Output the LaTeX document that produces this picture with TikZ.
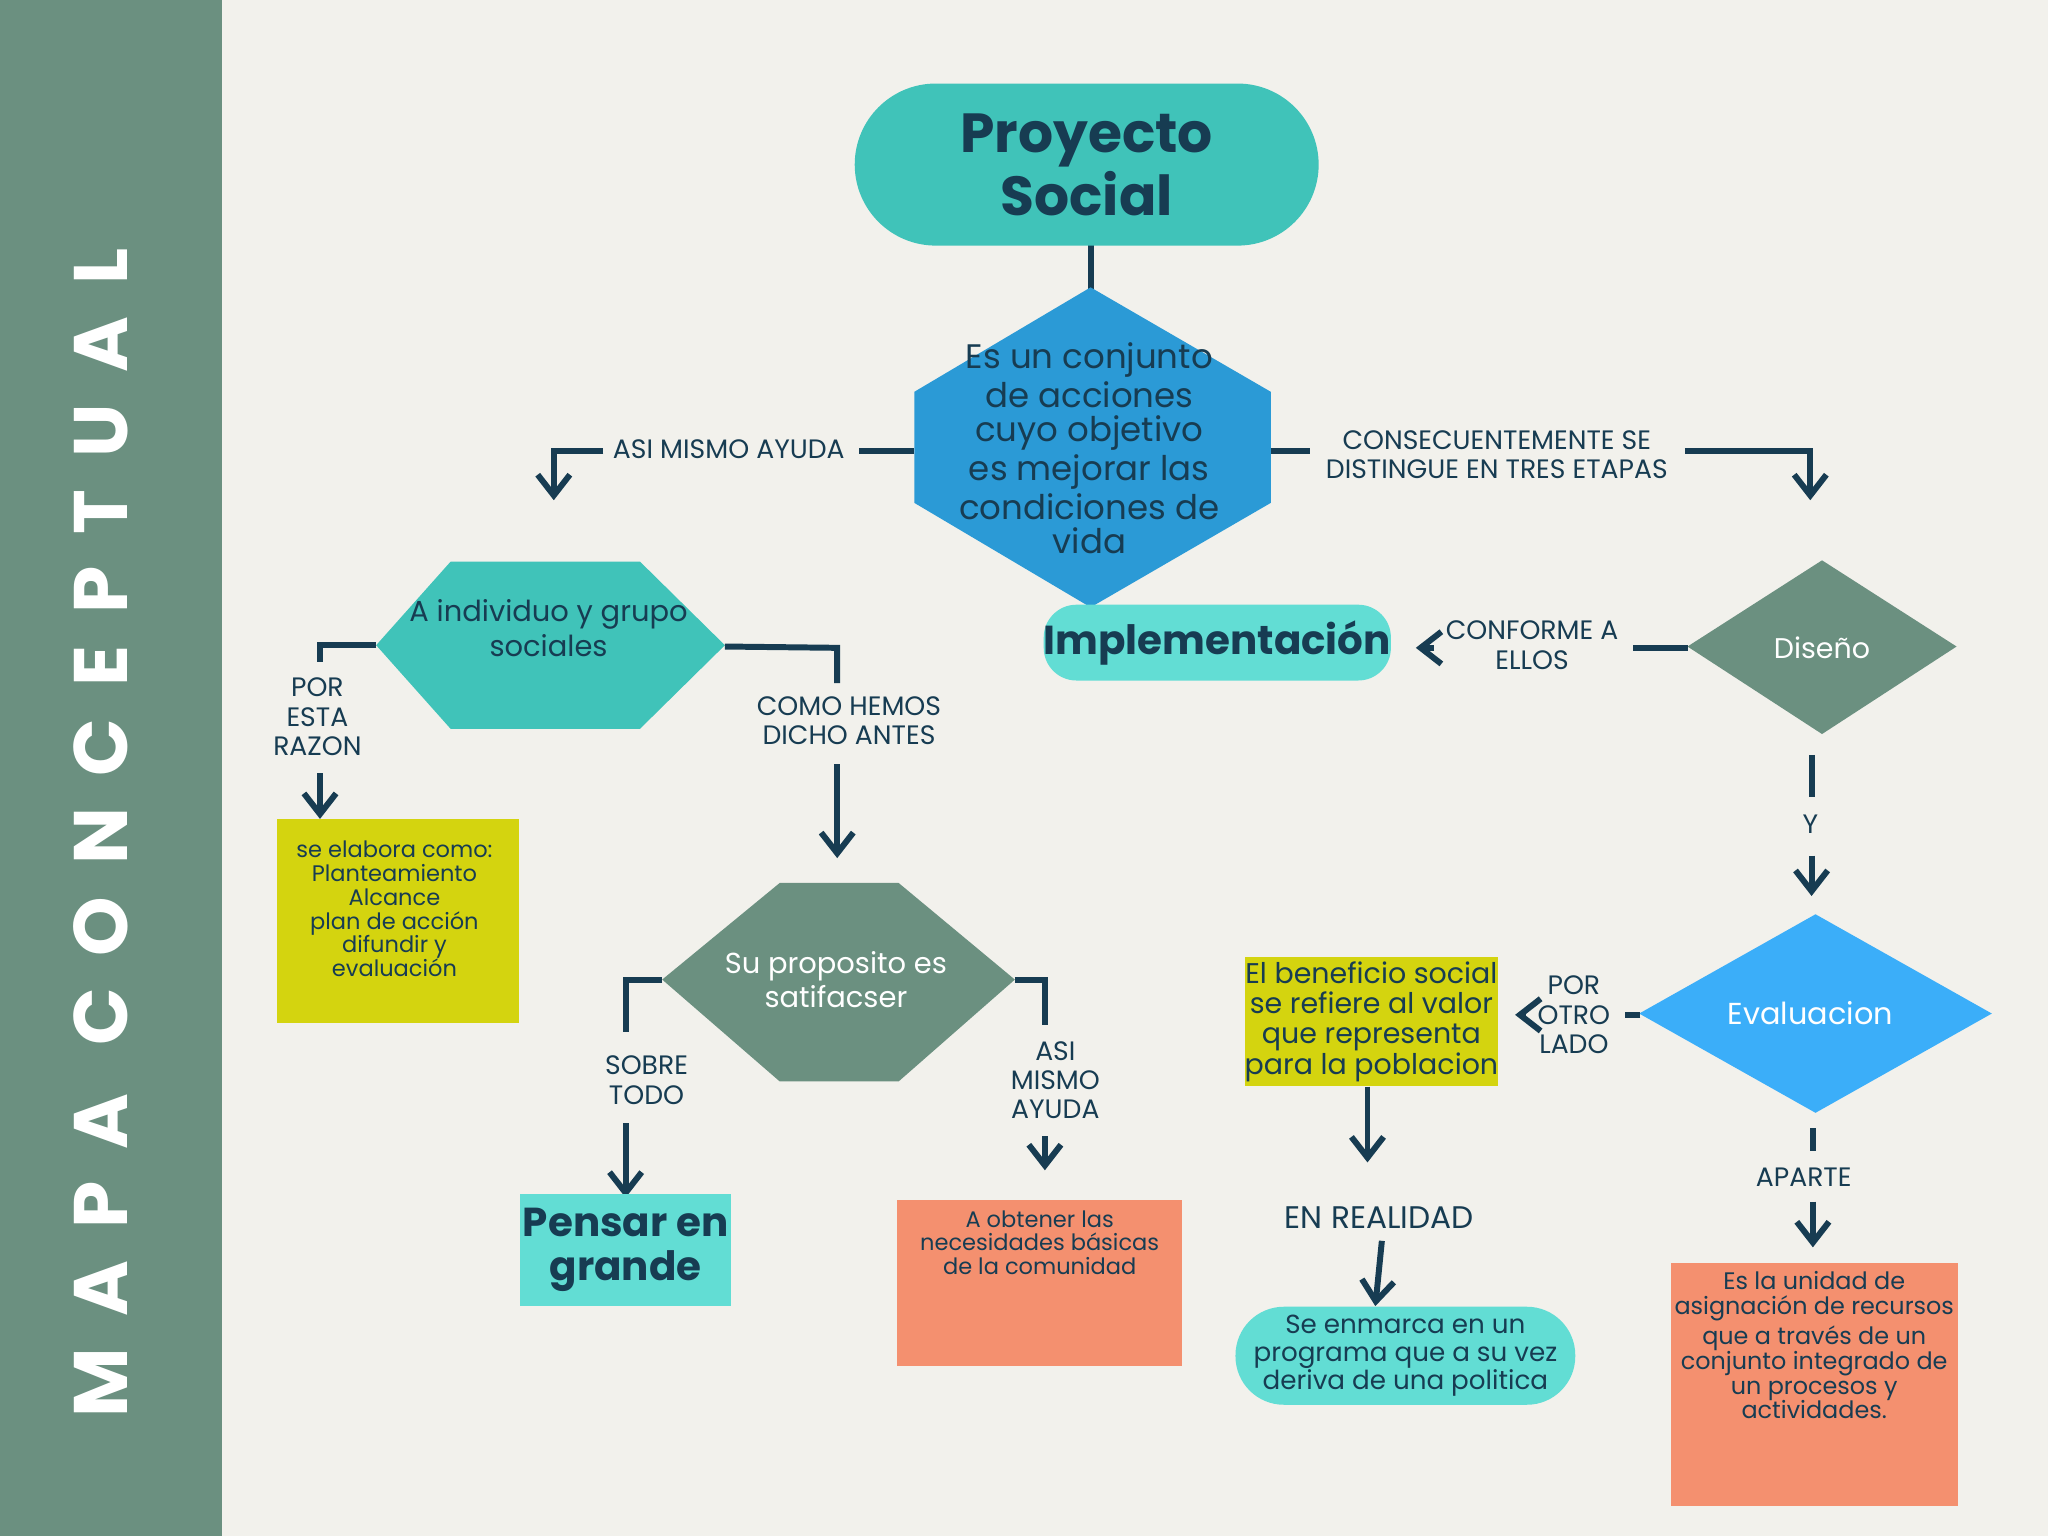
\documentclass[tikz,border=0pt]{standalone}
\usepackage{fontspec}
\setmainfont{Poppins}
\usetikzlibrary{arrows.meta}
\definecolor{bg}{HTML}{F2F1EC}
\definecolor{sage}{HTML}{6B9080}
\definecolor{teal}{HTML}{40C3B9}
\definecolor{aqua}{HTML}{62DDD4}
\definecolor{blu}{HTML}{2B9AD6}
\definecolor{lblu}{HTML}{3BAEF9}
\definecolor{yel}{HTML}{D4D40F}
\definecolor{sal}{HTML}{F4906F}
\definecolor{navy}{HTML}{173C52}
\tikzset{
 ln/.style={draw=navy,line width=1.3pt},
 ar/.style={ln,-{Straight Barb[length=4.5pt,width=7pt]}},
 lab/.style={text=navy,font=\fontsize{5.8}{6.4}\selectfont,align=center,inner sep=1pt},
 box/.style={text=navy,font=\fontsize{4.9}{5.2}\selectfont,align=center,inner sep=0pt},
 shp/.style={text=navy,font=\fontsize{7.4}{7.3}\selectfont,align=center},
 wshp/.style={text=white,font=\fontsize{6.2}{6.2}\selectfont,align=center},
 big/.style={text=navy,font=\bfseries\fontsize{9}{9.5}\selectfont,align=center}
}
\begin{document}
\begin{tikzpicture}[x=0.01cm,y=-0.01cm]
\useasboundingbox (0,0) rectangle (1568,1176);
\fill[bg] (0,0) rectangle (1568,1176);
\fill[sage] (0,0) rectangle (170,1176);
\node[rotate=90,text=white,font=\bfseries\fontsize{16.5}{17}\selectfont\addfontfeature{LetterSpace=42}] (title) at (77,638) {MAPA CONCEPTUAL};
% Proyecto social
\draw[ln] (835,185) -- (835,225);
\node[fill=teal,rounded corners=0.62cm,minimum width=3.55cm,minimum height=1.24cm,big,font=\bfseries\fontsize{12}{12.5}\selectfont] (ps) at (832,126) {Proyecto\\Social};
\fill[blu] (835,220) -- (973,300) -- (973,385) -- (835,465) -- (700,385) -- (700,300) -- cycle;
\node[shp] (hex) at (834,343) {Es un conjunto\\de acciones\\cuyo objetivo\\es mejorar las\\condiciones de\\vida};
% left branch
\node[lab] (l1) at (558,344) {ASI MISMO AYUDA};
\draw[ln] (700,345) -- (658,345);
\draw[ar] (462,345) -- (424,345) -- (424,383);
% right branch
\node[lab] (l2) at (1146,348) {CONSECUENTEMENTE SE\\DISTINGUE EN TRES ETAPAS};
\draw[ln] (973,345) -- (1003,345);
\draw[ar] (1290,345) -- (1386,345) -- (1386,383);
% Diseño
\fill[sage] (1395,429) -- (1498,495) -- (1395,562) -- (1292,495) -- cycle;
\node[wshp] (dis) at (1395,496) {Diseño};
\draw[ln] (1292,496) -- (1250,496);
\node[lab] (l3) at (1173,494) {CONFORME A\\ELLOS};
\draw[ar] (1098,496) -- (1084,496);
\node[fill=aqua,rounded corners=0.25cm,minimum width=2.65cm,minimum height=0.58cm,inner xsep=0pt,big,font=\bfseries\fontsize{8.8}{9.2}\selectfont] (imp) at (932,492) {Implementación};
\draw[ln] (1387,578) -- (1387,610);
\node[lab] (l4) at (1386,631) {Y};
\draw[ar] (1387,655) -- (1387,686);
% Evaluacion
\fill[lblu] (1390,700) -- (1525,776) -- (1390,852) -- (1255,776) -- cycle;
\node[wshp,font=\fontsize{6.6}{6.6}\selectfont] (ev) at (1386,776) {Evaluacion};
\draw[ln] (1256,777) -- (1244,777);
\node[lab] (l5) at (1205,777) {POR\\OTRO\\LADO};
\draw[ar] (1168,777) -- (1160,777);
\node[fill=yel,minimum width=1.9cm,minimum height=0.99cm,text=navy,font=\fontsize{6.2}{6.6}\selectfont,align=center,inner sep=0pt] (ben) at (1050,782) {El beneficio social\\se refiere al valor\\que representa\\para la poblacion};
\draw[ar] (1047,832) -- (1047,890);
\node[lab,font=\fontsize{6.8}{7.5}\selectfont] (l6) at (1056,932) {EN REALIDAD};
\draw[ar] (1058,950) -- (1053,1000);
\node[fill=aqua,rounded corners=0.37cm,minimum width=2.6cm,minimum height=0.75cm,box,font=\fontsize{5.7}{6.1}\selectfont] (enm) at (1076,1038) {Se enmarca en un\\programa que a su vez\\deriva de una politica};
\draw[ln] (1388,864) -- (1388,881);
\node[lab] (l7) at (1381,901) {APARTE};
\draw[ar] (1388,920) -- (1388,955);
\fill[sal] (1279,967) rectangle (1499,1153);
\node[box,font=\fontsize{5.2}{5.4}\selectfont,anchor=north] (uni) at (1389,973) {Es la unidad de\\asignación de recursos\\que a través de un\\conjunto integrado de\\un procesos y\\actividades.};
% left hexagon
\fill[teal] (288,494) -- (345,430) -- (490,430) -- (555,494) -- (490,558) -- (345,558) -- cycle;
\node[shp,font=\fontsize{6.3}{6}\selectfont] (ind) at (420,481) {A individuo y grupo\\sociales};
\draw[ln] (288,494) -- (245,494) -- (245,507);
\node[lab] (l8) at (243,549) {POR\\ESTA\\RAZON};
\draw[ar] (245,592) -- (245,627);
\fill[yel] (212,627) rectangle (397,783);
\node[box,anchor=north] (ela) at (302,643) {se elabora como:\\Planteamiento\\Alcance\\plan de acción\\difundir y\\evaluación};
\draw[ln] (555,495) -- (641,496) -- (641,523);
\node[lab] (l9) at (650,552) {COMO HEMOS\\DICHO ANTES};
\draw[ar] (641,585) -- (641,657);
% su proposito
\fill[sage] (507,750) -- (597,676) -- (688,676) -- (777,750) -- (688,828) -- (597,828) -- cycle;
\node[wshp,font=\fontsize{6.3}{5.9}\selectfont] (sup) at (640,750) {Su proposito es\\satifacser};
\draw[ln] (507,750) -- (479,750) -- (479,790);
\node[lab] (l10) at (495,827) {SOBRE\\TODO};
\draw[ar] (479,860) -- (479,917);
\node[fill=aqua,minimum width=1.62cm,minimum height=0.86cm,big,font=\bfseries\fontsize{8.8}{9.4}\selectfont,inner sep=0pt] (pen) at (479,957) {Pensar en\\grande};
\draw[ln] (777,750) -- (800,750) -- (800,785);
\node[lab] (l11) at (808,827) {ASI\\MISMO\\AYUDA};
\draw[ar] (800,870) -- (800,896);
\fill[sal] (687,919) rectangle (905,1046);
\node[box,anchor=north] (obt) at (796,926) {A obtener las\\necesidades básicas\\de la comunidad};
\end{tikzpicture}
\end{document}
